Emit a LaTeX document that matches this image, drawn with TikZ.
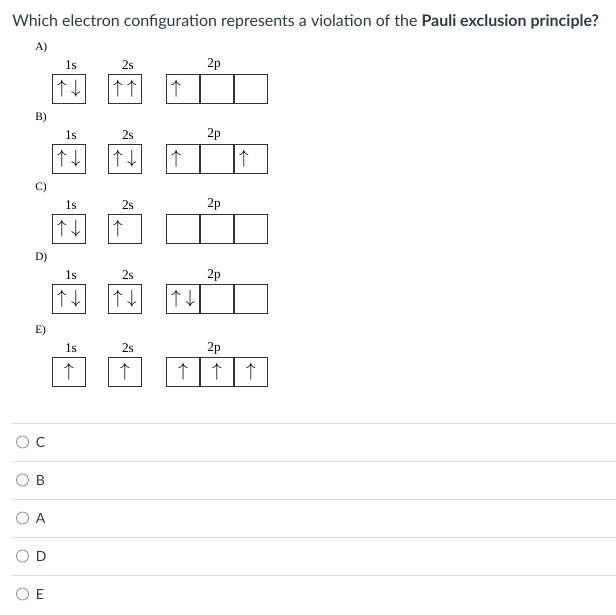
\documentclass[tikz,border=0pt]{standalone}
\usepackage{fontspec}
\setmainfont{Lato}
\newfontfamily\scanfont{Liberation Serif}
\usetikzlibrary{positioning}

\definecolor{canvastext}{HTML}{2D3B45}
\definecolor{rulegray}{HTML}{DDDDDD}
\definecolor{radiogray}{HTML}{8A8A8A}

% one orbital: two arrow slots, or one arrow in the middle
\newcommand{\orb}[2]{\makebox[24.75pt]{\makebox[10.5pt]{$#1$}\makebox[10.5pt]{$#2$}}}
\newcommand{\orbc}[1]{\makebox[24.75pt]{$#1$}}

\begin{document}
\begin{tikzpicture}[x=0.75pt, y=-0.75pt,
    orbbox/.style={draw=black!80, line width=0.6pt, minimum width=24.75pt,
      minimum height=21.75pt, inner sep=0pt, font=\fontsize{14.5}{15}\selectfont},
    shelllabel/.style={font=\scanfont\fontsize{10}{11}\selectfont},
    rowtag/.style={anchor=west, inner sep=0pt, font=\scanfont\fontsize{8.5}{9}\selectfont},
    radio/.style={circle, draw=radiogray, line width=0.6pt, minimum size=9pt, inner sep=0pt},
    choice/.style={anchor=west, inner sep=0pt, text=canvastext, font=\fontsize{10.5}{12}\selectfont}]
    \useasboundingbox (0,0) rectangle (616,614);

    % question
    \node[anchor=west, inner sep=0pt, text=canvastext, font=\fontsize{12}{14}\selectfont]
      (question) at (12, 22) {Which electron configuration represents a violation of the \textbf{Pauli exclusion principle?}};

    % options A to E: tag, shell labels and orbital boxes
    \foreach \row/\dy/\sa/\sb/\pa/\pb/\pc in {
        A/0/{\orb\uparrow\downarrow}/{\orb\uparrow\uparrow}/{\orb\uparrow{}}/{}/{},
        B/70/{\orb\uparrow\downarrow}/{\orb\uparrow\downarrow}/{\orb\uparrow{}}/{}/{\orb\uparrow{}},
        C/140/{\orb\uparrow\downarrow}/{\orb\uparrow{}}/{}/{}/{},
        D/210/{\orb\uparrow\downarrow}/{\orb\uparrow\downarrow}/{\orb\uparrow\downarrow}/{}/{},
        E/283/{\orbc\uparrow}/{\orbc\uparrow}/{\orbc\uparrow}/{\orbc\uparrow}/{\orbc\uparrow}}
    {
        \node[rowtag] (tag\row) at (35, 48+\dy) {\row)};
        \node[orbbox] (one\row) at (69, 88.5+\dy) {\sa};
        \node[orbbox] (two\row) at (125, 88.5+\dy) {\sb};
        \node[orbbox] (px\row) at (183.2, 88.5+\dy) {\pa};
        \node[orbbox, right=0pt of px\row] (py\row) {\pb};
        \node[orbbox, right=0pt of py\row] (pz\row) {\pc};
        \node[shelllabel] (lone\row) at (71, 65+\dy) {1s};
        \node[shelllabel] (ltwo\row) at (128, 65+\dy) {2s};
        \node[shelllabel] (lp\row) at (214, 65+\dy) {2p};
    }

    % answer choices with separators
    \foreach \ans [count=\i] in {C,B,A,D,E} {
        \draw[rulegray, line width=0.75pt] (12, 423.3+38*\i-38) -- (616, 423.3+38*\i-38);
        \node[radio] (radio\ans) at (22.5, 442+38*\i-38) {};
        \node[choice] (pick\ans) at (35.5, 442+38*\i-38) {\ans};
    }
\end{tikzpicture}
\end{document}
